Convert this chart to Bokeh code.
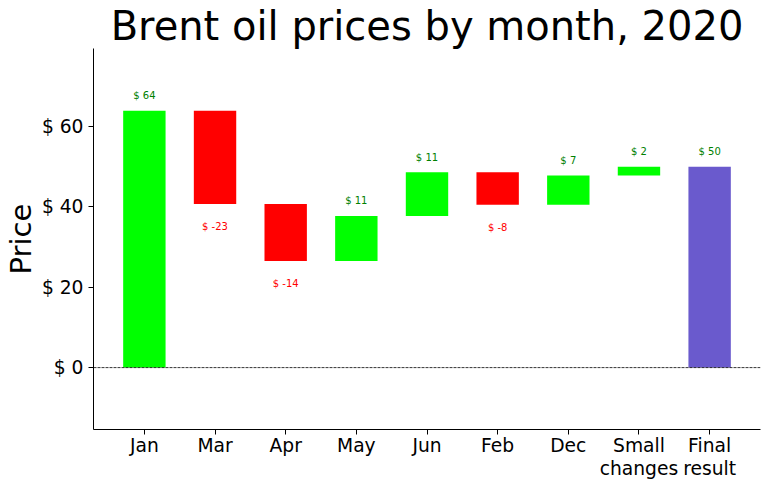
import numpy as np
from bokeh.plotting import figure
from bokeh.models import (ColumnDataSource, Range1d, FixedTicker, PrintfTickFormatter,
                          Span, LabelSet)
from bokeh.embed import file_html
from bokeh.resources import INLINE
from bokeh.core.properties import value

# ---- data ----
categories = ["Jan", "Mar", "Apr", "May", "Jun", "Feb", "Dec", "Small\nchanges"]
changes = [63.9, -23.2, -14.2, 11.2, 10.9, -8.1, 7.3, 2.2]
total_label = "Final\nresult"
y_ticks = [0, 20, 40, 60]
title_text = "Brent oil prices by month, 2020"
y_label = "Price"

# ---- derived ----
labels = categories + [total_label]
ends = np.cumsum(changes)
starts = ends - np.array(changes)
total = float(ends[-1])
xs = list(range(len(labels)))
bottoms = [float(s) for s in starts] + [0.0]
tops = [float(e) for e in ends] + [total]
amounts = list(changes) + [total]
bar_colors = ["#00ff00" if c > 0 else "#ff0000" for c in changes] + ["#6a5acd"]
txt_colors = ["green" if a > 0 else "red" for a in amounts]
label_y = [max(b, t) + 2.9 if a > 0 else min(b, t) - 6.5
           for b, t, a in zip(bottoms, tops, amounts)]
label_txt = ["$ %d" % round(a) for a in amounts]

src = ColumnDataSource(dict(x=xs, bottom=bottoms, top=tops, color=bar_colors,
                            ly=label_y, lt=label_txt, tc=txt_colors))

FONT = "DejaVu Sans"

p = figure(width=767, height=484, x_range=Range1d(-0.72, 8.72),
           y_range=Range1d(-15.4, 79.4), output_backend="svg",
           toolbar_location=None, min_border_left=92, min_border_top=47,
           min_border_right=7, min_border_bottom=55, title=title_text)
p.background_fill_color = "white"
p.border_fill_color = "white"
p.outline_line_color = None
p.xgrid.visible = False
p.ygrid.visible = False

p.title.text_font = FONT
p.title.text_font_size = "40px"
p.title.text_font_style = "normal"
p.title.text_color = "black"
p.title.align = "center"
p.title.standoff = 0
p.title.offset = 0
p.title.text_line_height = 1.0

p.vbar(x="x", bottom="bottom", top="top", width=0.6, fill_color="color",
       line_color=None, source=src)

p.add_layout(Span(location=0, dimension="width", line_color="black",
                  line_width=0.8, line_dash="3 1"))

p.add_layout(LabelSet(x="x", y="ly", text="lt", text_color="tc", source=src,
                      text_align="center", text_baseline="alphabetic",
                      text_font_size="10px", text_font=value(FONT)))

# axes
xa = p.xaxis[0]
xa.ticker = FixedTicker(ticks=xs)
xa.major_label_overrides = {i: lab for i, lab in zip(xs, labels)}
ya = p.yaxis[0]
ya.ticker = FixedTicker(ticks=y_ticks)
ya.formatter = PrintfTickFormatter(format="$ %d")
for ax in (xa, ya):
    ax.minor_tick_line_color = None
    ax.major_tick_in = 0
    ax.major_tick_out = 5
    ax.axis_line_color = "black"
    ax.axis_line_width = 1
    ax.major_tick_line_color = "black"
    ax.major_tick_line_width = 1
    ax.major_label_text_font = FONT
    ax.major_label_text_font_size = "18.7px"
    ax.major_label_text_color = "black"
xa.major_label_standoff = 0
xa.major_label_text_line_height = 1.1
ya.major_label_standoff = 5

ya.axis_label = y_label
ya.axis_label_text_font = FONT
ya.axis_label_text_font_size = "29px"
ya.axis_label_text_font_style = "normal"
ya.axis_label_text_color = "black"
ya.axis_label_standoff = 1

open("out.html", "w").write(file_html(p, INLINE))
